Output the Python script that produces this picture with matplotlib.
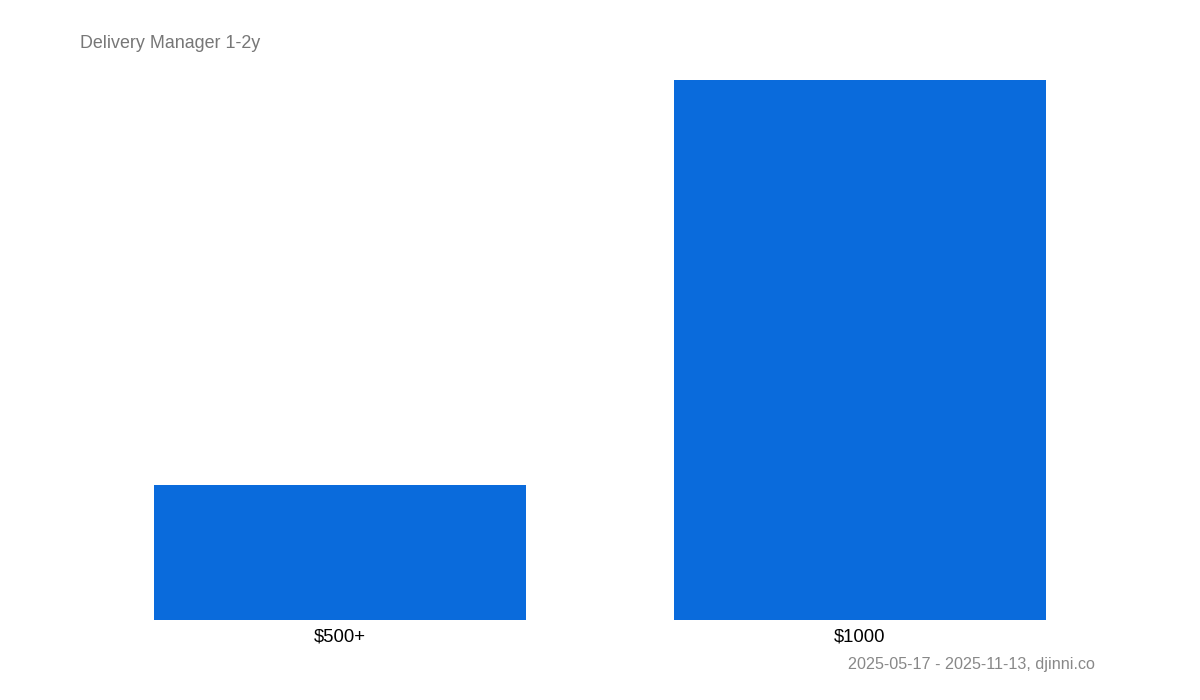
import matplotlib.pyplot as plt

plt.rcParams["font.family"] = ["Liberation Sans", "DejaVu Sans"]

categories = ["$500+", "$1000"]
counts = [1, 4]

title = "Delivery Manager 1-2y"
footer = "2025-05-17 - 2025-11-13, djinni.co"

fig = plt.figure(figsize=(12, 7), dpi=100)
ax = fig.add_axes([80 / 1200, 80 / 700, 1040 / 1200, 540 / 700])

x = list(range(len(categories)))
ax.bar(x, counts, width=0.714, color="#0a6bdc")
ax.set_xlim(-0.5, len(categories) - 0.5)
ax.set_ylim(0, max(counts))
ax.set_xticks(x)
ax.set_xticklabels(categories, fontsize=13.3, color="black")
ax.tick_params(axis="x", length=0, pad=6)
ax.set_yticks([])
for s in ax.spines.values():
    s.set_visible(False)

fig.text(80 / 1200, 1 - 44 / 700, title, fontsize=12.9, color="#777777", va="center", ha="left")
fig.text(1095 / 1200, 1 - 664 / 700, footer, fontsize=11.6, color="#888888", va="center", ha="right")

fig.savefig("out.png")
